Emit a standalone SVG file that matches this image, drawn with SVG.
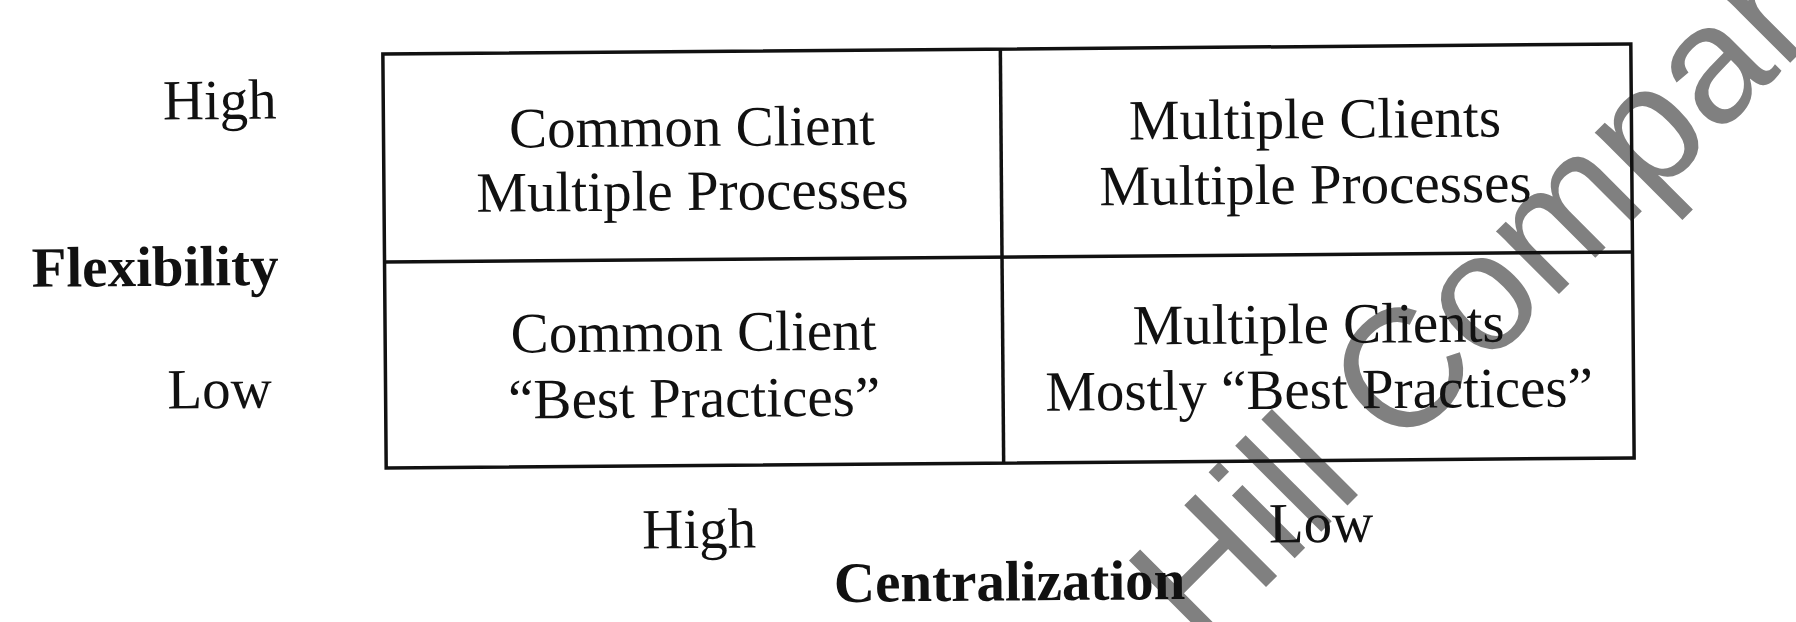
<svg xmlns="http://www.w3.org/2000/svg" width="1796" height="622" viewBox="0 0 1796 622">
<style>
.t{font-family:"Liberation Serif","Times New Roman",serif;font-size:57px;fill:#111;text-anchor:middle}
.b{font-weight:bold}
.ln{stroke:#111;stroke-width:3.5;fill:none}
.wm{font-family:"Liberation Sans",Arial,sans-serif;font-size:168px;fill:#808080}
</style>
<rect width="1796" height="622" fill="#fff"/>
<g id="watermark">
<text class="wm" transform="translate(1201 652) rotate(-45)">Hill Compan</text>
</g>
<g transform="rotate(-0.46 1008 256)">
<g id="connectors">
<rect class="ln" x="384.5" y="49" width="1248" height="414"/>
<line class="ln" x1="1002" y1="49" x2="1002" y2="463"/>
<line class="ln" x1="384.5" y1="257" x2="1632.5" y2="257"/>
</g>
<g id="cell-tl">
<text class="t" x="693" y="143.5">Common Client</text>
<text class="t" x="693" y="207.5">Multiple Processes</text>
</g>
<g id="cell-tr">
<text class="t" x="1316" y="140.5">Multiple Clients</text>
<text class="t" x="1316" y="206">Multiple Processes</text>
</g>
<g id="cell-bl">
<text class="t" x="693" y="348.5">Common Client</text>
<text class="t" x="693" y="414.5">“Best Practices”</text>
</g>
<g id="cell-br">
<text class="t" x="1318" y="345.5">Multiple Clients</text>
<text class="t" x="1318" y="411">Mostly “Best Practices”</text>
</g>
<g id="axis-y">
<text class="t" x="221" y="112.7">High</text>
<text class="t b" x="155" y="279">Flexibility</text>
<text class="t" x="218.5" y="401.7">Low</text>
</g>
<g id="axis-x">
<text class="t" x="697" y="545.5">High</text>
<text class="t" x="1319" y="544.5">Low</text>
<text class="t b" x="1007" y="600.5">Centralization</text>
</g>
</g>
</svg>
